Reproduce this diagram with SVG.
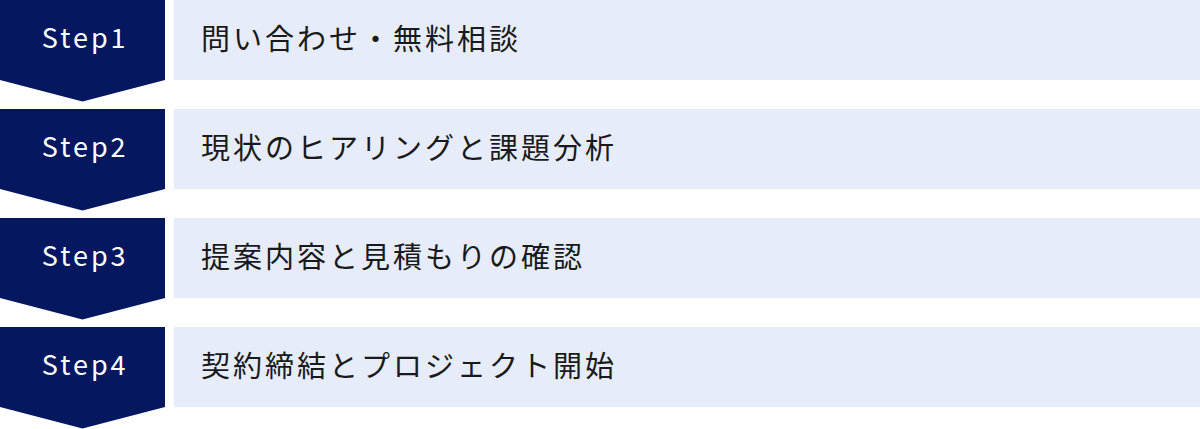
<svg xmlns="http://www.w3.org/2000/svg" width="1200" height="429" viewBox="0 0 1200 429">
<style>
.badge{fill:#05175f}
.panel{fill:#e6ecf9}
.step{font-family:"Noto Sans CJK JP","Noto Sans",sans-serif;font-size:27px;fill:#ffffff;letter-spacing:3px;text-anchor:middle}
.label{font-family:"Noto Sans CJK JP","Noto Sans",sans-serif;font-size:29px;fill:#1a1a1a;letter-spacing:3px}
</style>
<rect width="1200" height="429" fill="#ffffff"/>
<g id="step1">
<path class="badge" d="M0 0H165V80L82.5 101.5L0 80Z"/>
<text class="step" x="85.2" y="47.5">Step1</text>
<rect class="panel" x="174" y="0" width="1026" height="80"/>
<text class="label" x="201" y="50">問い合わせ・無料相談</text>
</g>
<g id="step2">
<path class="badge" d="M0 109H165V189L82.5 210.5L0 189Z"/>
<text class="step" x="85.2" y="156.5">Step2</text>
<rect class="panel" x="174" y="109" width="1026" height="80"/>
<text class="label" x="201" y="159">現状のヒアリングと課題分析</text>
</g>
<g id="step3">
<path class="badge" d="M0 218H165V298L82.5 319.5L0 298Z"/>
<text class="step" x="85.2" y="265.5">Step3</text>
<rect class="panel" x="174" y="218" width="1026" height="80"/>
<text class="label" x="201" y="268">提案内容と見積もりの確認</text>
</g>
<g id="step4">
<path class="badge" d="M0 327H165V407L82.5 428.5L0 407Z"/>
<text class="step" x="85.2" y="374.5">Step4</text>
<rect class="panel" x="174" y="327" width="1026" height="80"/>
<text class="label" x="201" y="377">契約締結とプロジェクト開始</text>
</g>
<g id="connectors"></g>
</svg>
